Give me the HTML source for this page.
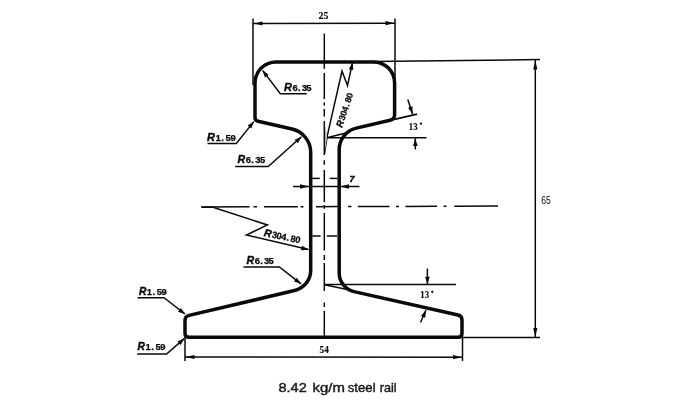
<!DOCTYPE html>
<html><head><meta charset="utf-8"><style>
html,body{margin:0;padding:0;background:#fff;width:680px;height:408px;overflow:hidden}
svg{display:block;will-change:transform}
.sr{font-family:"Liberation Serif",serif;font-weight:bold;fill:#0a0a0a;stroke:#0a0a0a;stroke-width:0.15px}
.ss{font-family:"Liberation Sans",sans-serif;fill:#0a0a0a}
.cap text{font-family:"Liberation Sans",sans-serif;font-size:13.4px;fill:#1a1a1a;stroke:#1a1a1a;stroke-width:0.45px}
.lbd{font-family:"Liberation Sans",sans-serif;font-weight:bold;fill:#0a0a0a;stroke:#0a0a0a;stroke-width:0.25px}
.lb{font-family:"Liberation Sans",sans-serif;font-weight:bold;font-style:italic;fill:#0a0a0a;stroke:#0a0a0a;stroke-width:0.4px}
</style></head><body>
<svg width="680" height="408" viewBox="0 0 680 408">
<rect width="680" height="408" fill="#fff"/>
<g stroke="#0a0a0a" stroke-linecap="butt" fill="none">
<line x1="253" y1="18.5" x2="253" y2="85" stroke-width="1.5"/>
<line x1="395" y1="18.5" x2="395" y2="85" stroke-width="1.5"/>
<line x1="253" y1="23.5" x2="395" y2="23.2" stroke-width="1.5"/>
<line x1="372" y1="61.5" x2="540" y2="59.6" stroke-width="1.5"/>
<line x1="462" y1="337.4" x2="540" y2="337.4" stroke-width="1.5"/>
<line x1="535.3" y1="60" x2="535.3" y2="337" stroke-width="1.5"/>
<line x1="185" y1="337" x2="185" y2="361" stroke-width="1.5"/>
<line x1="462.5" y1="337" x2="462.5" y2="361" stroke-width="1.5"/>
<line x1="185" y1="357" x2="462.5" y2="357.2" stroke-width="1.5"/>
<line x1="293" y1="186.5" x2="359.5" y2="186.5" stroke-width="1.5"/>
<line x1="312.3" y1="178.4" x2="319.8" y2="178.4" stroke-width="1.5"/>
<line x1="329.8" y1="178.4" x2="337.4" y2="178.4" stroke-width="1.5"/>
<line x1="312.3" y1="236" x2="320.6" y2="236" stroke-width="1.5"/>
<line x1="326.8" y1="236" x2="337.2" y2="236" stroke-width="1.5"/>
<line x1="394.5" y1="119.3" x2="417" y2="114.2" stroke-width="1.7"/>
<line x1="327" y1="137.8" x2="426.5" y2="137.8" stroke-width="1.5"/>
<line x1="326.8" y1="137.8" x2="350" y2="132" stroke-width="1.5"/>
<line x1="407.8" y1="99.4" x2="412.6" y2="114" stroke-width="1.5"/>
<line x1="415.3" y1="138.2" x2="415.3" y2="149.5" stroke-width="1.5"/>
<line x1="324.5" y1="284.6" x2="456" y2="284.6" stroke-width="1.5"/>
<line x1="324.5" y1="284.8" x2="352" y2="290.6" stroke-width="1.5"/>
<line x1="427.4" y1="268.5" x2="427.4" y2="284" stroke-width="1.5"/>
<line x1="420.5" y1="322.5" x2="425.9" y2="310.2" stroke-width="1.5"/>
<polyline points="306.8,93.8 280.3,93.8 262.8,70.6" fill="none" stroke-width="1.5"/>
<polyline points="207.5,143.4 236.3,143.4 253.8,121.6" fill="none" stroke-width="1.5"/>
<polyline points="235.3,166.5 268.2,166.5 301.4,136.8" fill="none" stroke-width="1.5"/>
<polyline points="352.4,63 347.5,85.6 342,71 326.8,137.8" fill="none" stroke-width="1.5"/>
<polyline points="327,137.8 324.4,155" fill="none" stroke-width="1.3"/>
<path d="M 324.3 121 L 327 137.8 L 324.4 155 Z" fill="#bbb" stroke="none"/>
<polyline points="201.5,207.2 213,207.2 267.4,225 246.4,235 308.5,249.6" fill="none" stroke-width="1.5"/>
<polyline points="243.4,267 279.4,267 301,283.8" fill="none" stroke-width="1.5"/>
<polyline points="137.6,297.7 164,297.7 185,314" fill="none" stroke-width="1.5"/>
<polyline points="137.2,354 166.6,354 184.2,338.6" fill="none" stroke-width="1.5"/>
<line x1="324.3" y1="33.5" x2="324.3" y2="68.8" stroke-width="1.5"/>
<line x1="324.3" y1="73" x2="324.3" y2="99" stroke-width="1.5"/>
<line x1="324.3" y1="102.5" x2="324.3" y2="105.5" stroke-width="1.5"/>
<line x1="324.3" y1="109" x2="324.3" y2="116.6" stroke-width="1.5"/>
<line x1="324.3" y1="121" x2="324.3" y2="155" stroke-width="1.5"/>
<line x1="324.3" y1="160.3" x2="324.3" y2="164.7" stroke-width="1.5"/>
<line x1="324.3" y1="169.9" x2="324.3" y2="202.2" stroke-width="1.5"/>
<line x1="324.3" y1="205" x2="324.3" y2="208.7" stroke-width="1.5"/>
<line x1="324.3" y1="213" x2="324.3" y2="250.6" stroke-width="1.5"/>
<line x1="324.3" y1="255" x2="324.3" y2="260" stroke-width="1.5"/>
<line x1="324.3" y1="263" x2="324.3" y2="291" stroke-width="1.5"/>
<line x1="324.3" y1="302.5" x2="324.3" y2="307" stroke-width="1.5"/>
<line x1="324.3" y1="310.8" x2="324.3" y2="337" stroke-width="1.5"/>
<line x1="201.2" y1="207" x2="249.6" y2="206.85" stroke-width="1.5"/>
<line x1="253.5" y1="206.84" x2="257" y2="206.83" stroke-width="1.5"/>
<line x1="264" y1="206.81" x2="298" y2="206.71" stroke-width="1.5"/>
<line x1="300.5" y1="206.7" x2="303.5" y2="206.69" stroke-width="1.5"/>
<line x1="316" y1="206.65" x2="338" y2="206.59" stroke-width="1.5"/>
<line x1="348" y1="206.56" x2="351.5" y2="206.55" stroke-width="1.5"/>
<line x1="357.8" y1="206.53" x2="389.5" y2="206.43" stroke-width="1.5"/>
<line x1="396" y1="206.41" x2="399" y2="206.4" stroke-width="1.5"/>
<line x1="405.4" y1="206.38" x2="437.1" y2="206.29" stroke-width="1.5"/>
<line x1="443.5" y1="206.27" x2="446.5" y2="206.26" stroke-width="1.5"/>
<line x1="454.3" y1="206.24" x2="498" y2="206.11" stroke-width="1.5"/>
</g>
<path d="M 253.5 23.5 L 262.5 21.4 L 262.5 25.6 Z" fill="#0a0a0a"/>
<path d="M 394.5 23.2 L 385.5 25.3 L 385.5 21.1 Z" fill="#0a0a0a"/>
<path d="M 535.3 60.5 L 537.4 69.5 L 533.2 69.5 Z" fill="#0a0a0a"/>
<path d="M 535.3 337 L 533.2 328 L 537.4 328 Z" fill="#0a0a0a"/>
<path d="M 185.5 357 L 194.5 354.9 L 194.5 359.1 Z" fill="#0a0a0a"/>
<path d="M 462 357.2 L 453 359.3 L 453 355.1 Z" fill="#0a0a0a"/>
<path d="M 309 186.5 L 300 188.7 L 300 184.3 Z" fill="#0a0a0a"/>
<path d="M 340 186.5 L 349 184.3 L 349 188.7 Z" fill="#0a0a0a"/>
<path d="M 412.6 114.2 L 408.1 107.78 L 412.47 106.36 Z" fill="#0a0a0a"/>
<path d="M 415.3 138.4 L 417.6 145.9 L 413 145.9 Z" fill="#0a0a0a"/>
<path d="M 427.4 284.2 L 425.1 276.7 L 429.7 276.7 Z" fill="#0a0a0a"/>
<path d="M 426.1 310 L 425.13 317.78 L 420.93 315.9 Z" fill="#0a0a0a"/>
<path d="M 262.3 70 L 268.63 74.64 L 264.94 77.39 Z" fill="#0a0a0a"/>
<path d="M 254.2 121.2 L 251.25 128.47 L 247.68 125.56 Z" fill="#0a0a0a"/>
<path d="M 301.8 136.5 L 297.73 143.2 L 294.67 139.77 Z" fill="#0a0a0a"/>
<path d="M 352.6 62.3 L 353.33 70.11 L 348.82 69.18 Z" fill="#0a0a0a"/>
<path d="M 308.8 249.7 L 300.98 250.27 L 302 245.79 Z" fill="#0a0a0a"/>
<path d="M 301.4 284.1 L 294.03 281.41 L 296.8 277.74 Z" fill="#0a0a0a"/>
<path d="M 185.4 314.3 L 178.02 311.64 L 180.78 307.96 Z" fill="#0a0a0a"/>
<path d="M 184.6 338.2 L 180.57 344.93 L 177.49 341.51 Z" fill="#0a0a0a"/>
<path d="M 276 61.9 L 373.6 61.9 A 21.0 21.0 0 0 1 394.6 82.9 L 394.6 114.8 Q 394.6 119.3 390.1 120.33 L 356.27 128.12 A 22.0 22.0 0 0 0 339.2 149.56 L 339.2 273.07 A 19.0 19.0 0 0 0 354.03 291.61 L 458 315 Q 462 315.9 462 319.9 L 462 333.2 Q 462 337.2 458 337.2 L 189 337.2 Q 185 337.2 185 333.2 L 185 320.3 Q 185 316.3 189 315.36 L 294.5 290.57 A 21.0 21.0 0 0 0 310.7 270.12 L 310.7 152.42 A 24.0 24.0 0 0 0 292.08 129.03 L 258 121.19 Q 255 120.5 255 117.5 L 255 82.9 A 21.0 21.0 0 0 1 276 61.9 Z" fill="none" stroke="#0a0a0a" stroke-width="3.5" stroke-linejoin="round"/>
<text class="sr" x="318.6" y="18.7" font-size="10.5" textLength="9.8" lengthAdjust="spacingAndGlyphs">25</text>
<text class="sr" x="319.6" y="353.2" font-size="11" textLength="9.2" lengthAdjust="spacingAndGlyphs">54</text>
<text class="sr" x="408.8" y="129.7" font-size="10.3" textLength="8.7" lengthAdjust="spacingAndGlyphs">13</text>
<circle cx="421" cy="123.6" r="0.9" fill="#0a0a0a" stroke="#0a0a0a" stroke-width="0.6"/>
<text class="sr" x="420.3" y="298.2" font-size="10.6" textLength="8.7" lengthAdjust="spacingAndGlyphs">13</text>
<circle cx="432.3" cy="291.8" r="0.9" fill="#0a0a0a" stroke="#0a0a0a" stroke-width="0.6"/>
<text class="ss" x="541.2" y="203.5" font-size="10.3" textLength="9.6" lengthAdjust="spacingAndGlyphs" fill="#3a3a3a">65</text>
<text class="lb" x="349.5" y="182.1" font-size="9" stroke="#0a0a0a" stroke-width="0.25">7</text>
<text x="283.9" y="91.2" class="lb" font-size="11.0">R</text><text x="292.5 297.9 301.7 306.3" y="91.2" class="lbd" font-size="9.5">6.35</text>
<text x="207" y="140.6" class="lb" font-size="11.0">R</text><text x="215.6 221.33 225.45 230.38" y="140.6" class="lbd" font-size="9.6">1.59</text>
<text x="237.4" y="162.9" class="lb" font-size="10.6">R</text><text x="245.69 251.29 255.29 260.1" y="162.9" class="lbd" font-size="9.4">6.35</text>
<text x="246.5" y="263.6" class="lb" font-size="10.6">R</text><text x="254.79 260.17 263.94 268.52" y="263.6" class="lbd" font-size="9.4">6.35</text>
<text x="138.9" y="294.6" class="lb" font-size="10.2">R</text><text x="146.87 152.58 156.69 161.59" y="294.6" class="lbd" font-size="9.4">1.59</text>
<text x="137.6" y="350.3" class="lb" font-size="10.2">R</text><text x="145.57 151.28 155.39 160.29" y="350.3" class="lbd" font-size="9.4">1.59</text>
<g transform="translate(263.5,236) rotate(11.5)"><text x="0" y="0" class="lb" font-size="10.4">R</text><text x="8.13 12.86 17.59 23.12 27.04 31.77" y="0" class="lbd" font-size="9.2">304.80</text></g>
<g transform="translate(342,128) rotate(-71.5)"><text x="0" y="0" class="lb" font-size="9.4">R</text><text x="7.35 12.04 16.73 22.22 26.12 30.81" y="0" class="lbd" font-size="8.8">304.80</text></g>
<g class="cap">
<text x="278.5" y="391.8" textLength="28.2" lengthAdjust="spacingAndGlyphs">8.42</text>
<text x="312.6" y="391.8" textLength="32.3" lengthAdjust="spacingAndGlyphs">kg/m</text>
<text x="347.7" y="391.8" textLength="27.9" lengthAdjust="spacingAndGlyphs">steel</text>
<text x="379.8" y="391.8" textLength="16.8" lengthAdjust="spacingAndGlyphs">rail</text>
</g>
</svg>
</body></html>
